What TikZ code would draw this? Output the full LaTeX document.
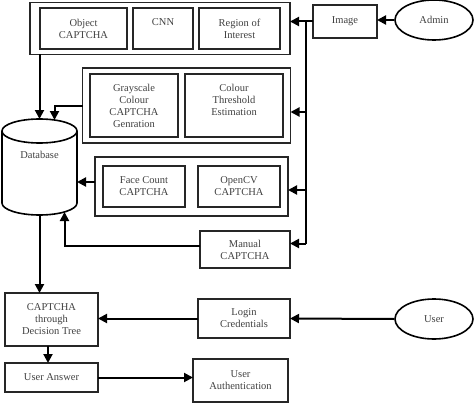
\documentclass[tikz,border=0pt]{standalone}
\usepackage{fontspec}
\setmainfont{Liberation Serif}
\usetikzlibrary{shapes.geometric, arrows.meta, positioning, fit}

\begin{document}
\begin{tikzpicture}[
    x=1pt, y=-1pt,
    block/.style={rectangle, draw=black!85, line width=1.5pt, outer sep=0pt, inner sep=1pt, align=center, text=black!75, font=\fontsize{10.5}{12}\selectfont},
    group/.style={rectangle, draw=black!85, line width=1.5pt, outer sep=0pt},
    actor/.style={ellipse, draw=black, line width=1.6pt, minimum width=78pt, minimum height=40pt, text=black!75, font=\fontsize{10.5}{12}\selectfont},
    store/.style={rectangle, outer sep=0pt, minimum width=75pt, minimum height=96pt},
    arrow/.style={-{Triangle[length=9pt, width=9pt]}, line width=2pt},
    line/.style={line width=2pt},
    node distance=6pt
]
\useasboundingbox (0,0) rectangle (474,404);

% top group
\node[block, minimum width=87pt, minimum height=41pt] (objcap) at (83.5,28.5) {Object\\CAPTCHA};
\node[block, minimum width=60pt, minimum height=41pt, right=6pt of objcap] (cnn) {CNN\\~};
\node[block, minimum width=81pt, minimum height=41pt, right=6pt of cnn] (roi) {Region of\\Interest};
\node[group, fit=(objcap)(roi), inner xsep=10pt, inner ysep=5.5pt] (grp1) {};

\node[block, minimum width=64pt, minimum height=33pt] (image) at (345,21.5) {Image};
\node[actor] (admin) at (434,20) {Admin};

% second group
\node[block, minimum width=88pt, minimum height=63pt] (gray) at (134,105.5) {Grayscale\\Colour\\CAPTCHA\\Genration};
\node[block, minimum width=98pt, minimum height=63pt, right=7pt of gray] (thresh) {Colour\\Threshold\\Estimation\\~};
\node[group, fit=(gray)(thresh), inner xsep=7.5pt, inner ysep=6pt] (grp2) {};

% third group
\node[block, minimum width=82pt, minimum height=41pt] (face) at (144,186.5) {Face Count\\CAPTCHA};
\node[block, minimum width=82pt, minimum height=41pt, right=13pt of face] (opencv) {OpenCV\\CAPTCHA};
\node[group, fit=(face)(opencv), inner xsep=8pt, inner ysep=9pt] (grp3) {};

\node[block, minimum width=90pt, minimum height=37pt] (manual) at (245,249.5) {Manual\\CAPTCHA};

% database
\node[store] (db) at (39.5,167) {};
\draw[line width=1.6pt] ([yshift=-12pt]db.north) ellipse [x radius=37.5pt, y radius=12pt];
\draw[line width=1.6pt] ([yshift=-12pt]db.north west) -- ([yshift=12pt]db.south west)
    arc[start angle=180, end angle=360, x radius=37.5pt, y radius=12pt] -- ([yshift=-12pt]db.north east);
\node[text=black!75, font=\fontsize{10.5}{12}\selectfont] (dblabel) at ([yshift=-36pt]db.north) {Database};

% bottom part
\node[block, minimum width=93pt, minimum height=53pt] (dtree) at (51.5,319.5) {CAPTCHA\\through\\Decision Tree};
\node[block, minimum width=92pt, minimum height=39pt] (login) at (244,318.5) {Login\\Credentials};
\node[actor] (user) at (434,319) {User};
\node[block, minimum width=93pt, minimum height=29pt] (answer) at (51.5,377.5) {User Answer};
\node[block, minimum width=95pt, minimum height=43pt] (auth) at (240.5,380.5) {User\\Authentication};

% Arrows
\coordinate (bus) at ([xshift=-7pt]image.west);
\draw[arrow] (admin.west) -- (admin.west -| image.east);
\draw[arrow] (image.west) -- (image.west -| grp1.east);
\draw[line] (bus) -- ([yshift=6pt]manual.west -| bus);
\draw[arrow] ([yshift=-6.5pt]grp2.east -| bus) -- ([yshift=-6.5pt]grp2.east);
\draw[arrow] ([yshift=-3.5pt]grp3.east -| bus) -- ([yshift=-3.5pt]grp3.east);
\draw[arrow] ([yshift=6pt]manual.east -| bus) -- ([yshift=6pt]manual.east);

\draw[arrow] (grp1.south -| db.north) -- (db.north);
\draw[arrow] (grp2.west) -| ([xshift=15pt, yshift=-1pt]db.north);
\draw[arrow] ([yshift=4.5pt]grp3.west) -- ([yshift=4.5pt]grp3.west -| db.east);
\draw[arrow] ([yshift=3.5pt]manual.west) -| ([xshift=25pt, yshift=3pt]db.south);
\draw[arrow] (db.south) -- (db.south |- dtree.north);

\draw[arrow] (user.west) -- (login.east);
\draw[arrow] (login.west) -- (login.west -| dtree.east);
\draw[arrow] ([xshift=-3.5pt]dtree.south) -- ([xshift=-3.5pt]answer.north);
\draw[arrow] (answer.east) -- (answer.east -| auth.west);

\end{tikzpicture}
\end{document}
